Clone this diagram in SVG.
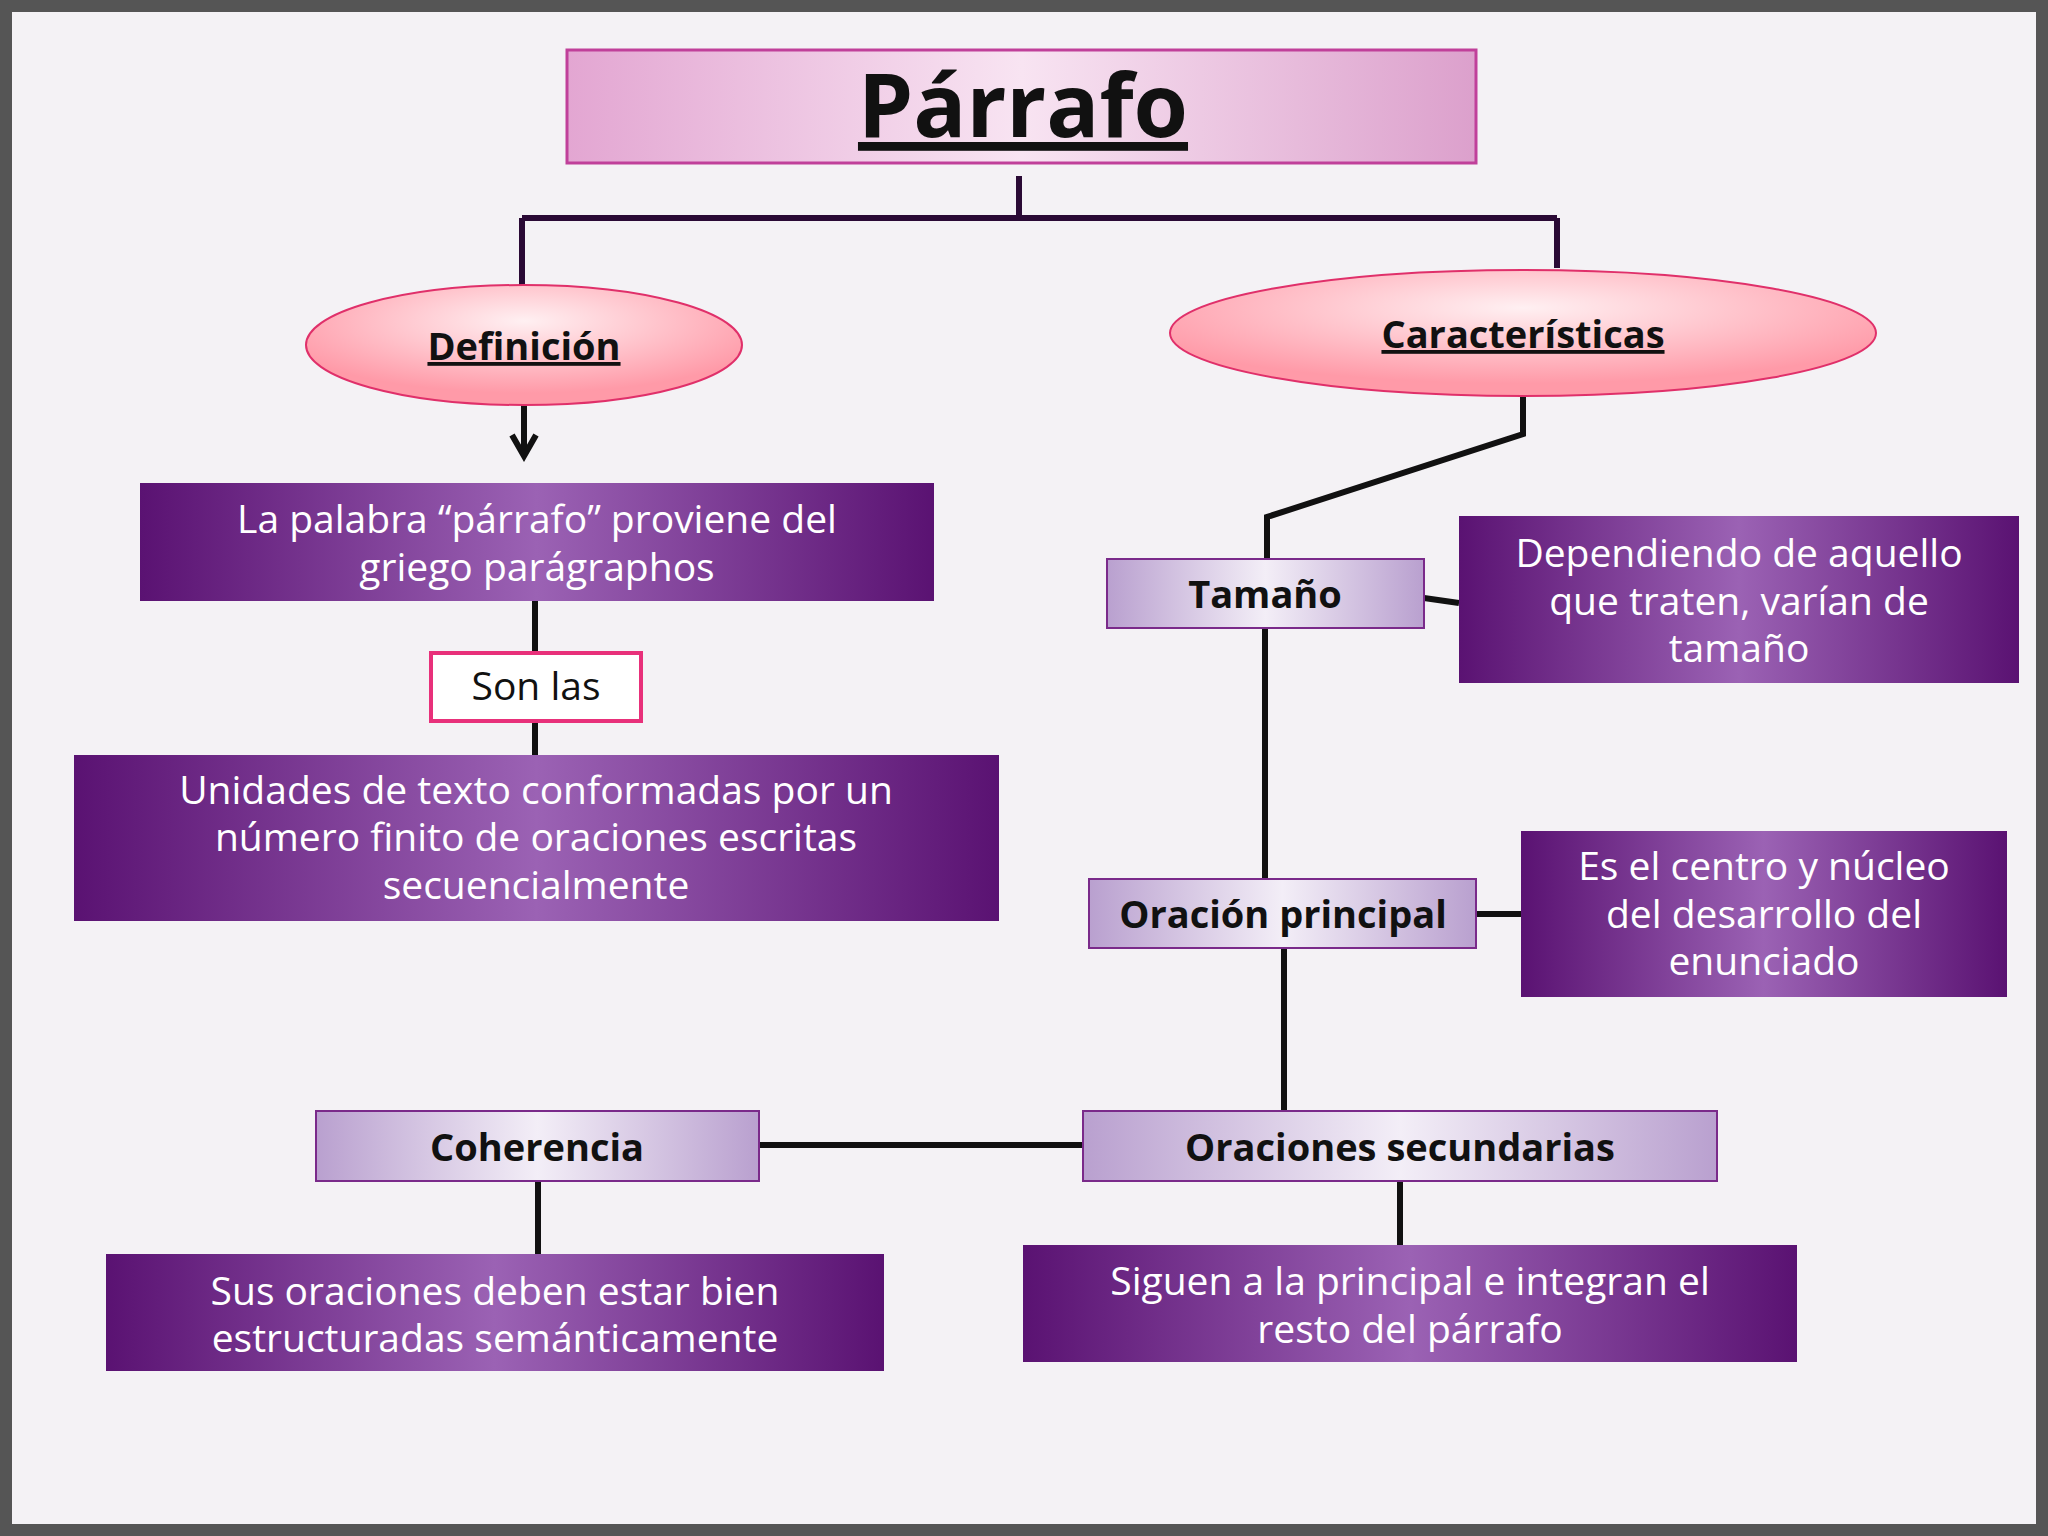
<svg xmlns="http://www.w3.org/2000/svg" width="2048" height="1536" viewBox="0 0 2048 1536">
<defs>
<linearGradient id="pur" x1="0" y1="0" x2="1" y2="0"><stop offset="0" stop-color="#5a1272"/><stop offset="0.5" stop-color="#9b62b4"/><stop offset="1" stop-color="#5a1272"/></linearGradient>
<linearGradient id="lav" x1="0" y1="0" x2="1" y2="0"><stop offset="0" stop-color="#b9a0cf"/><stop offset="0.5" stop-color="#f3eef7"/><stop offset="1" stop-color="#b9a0cf"/></linearGradient>
<linearGradient id="tit" x1="0" y1="0" x2="1" y2="0"><stop offset="0" stop-color="#e3a6d2"/><stop offset="0.5" stop-color="#f8e4f2"/><stop offset="1" stop-color="#dca0cc"/></linearGradient>
<radialGradient id="ell" cx="0.5" cy="0.3" r="0.6"><stop offset="0" stop-color="#fff0f2"/><stop offset="1" stop-color="#ff9aa8"/></radialGradient>
<radialGradient id="bg" cx="0.5" cy="0.5" r="0.75"><stop offset="0.85" stop-color="#f4f2f5"/><stop offset="1" stop-color="#6a6a6a"/></radialGradient>
<marker id="ar" viewBox="0 0 10 10" refX="8" refY="5" markerWidth="5" markerHeight="5" orient="auto"><path d="M1,1 L8,5 L1,9" fill="none" stroke="#111" stroke-width="2"/></marker>
<style>
.pb{fill:url(#pur)}
.lb{fill:url(#lav);stroke:#7a2a8a;stroke-width:2}
.wt{font-family:"Open Sans","Liberation Sans",sans-serif;font-size:39px;fill:#fff;text-anchor:middle}
.bt{font-family:"Open Sans","DejaVu Sans",sans-serif;font-weight:bold;font-size:38px;fill:#111;text-anchor:middle}
.ln{stroke:#111;stroke-width:6;fill:none}
.ln2{stroke:#2a0a35;stroke-width:6;fill:none}
</style>
</defs>
<rect width="2048" height="1536" fill="#f4f2f5"/>
<rect x="0" y="0" width="2048" height="1536" fill="none" stroke="#555" stroke-width="24"/>
<g id="connectors">
<path class="ln2" d="M1019,176 V218 M522,218 H1557 M522,218 V285 M1557,218 V268"/>
<path class="ln" d="M524,405 V456" marker-end="url(#ar)"/>
<path class="ln" d="M535,601 V757"/>
<path class="ln" d="M1523,396 V434 L1267,517 V559"/>
<path class="ln" d="M1424,598 L1459,603"/>
<path class="ln" d="M1265,628 V879"/>
<path class="ln" d="M1476,914 H1521"/>
<path class="ln" d="M1284,948 V1111"/>
<path class="ln" d="M759,1145 H1083"/>
<path class="ln" d="M538,1181 V1254"/>
<path class="ln" d="M1400,1181 V1245"/>
</g>
<g id="titulo"><rect x="567" y="50" width="909" height="113" fill="url(#tit)" stroke="#c0409a" stroke-width="3"/>
<text x="1023" y="137" font-family="'Open Sans','DejaVu Sans',sans-serif" font-weight="bold" font-size="88" text-anchor="middle" text-decoration="underline" fill="#111">Párrafo</text></g>
<g id="definicion"><ellipse cx="524" cy="345" rx="218" ry="60" fill="url(#ell)" stroke="#e0306a" stroke-width="2"/>
<text x="524" y="360" class="bt" font-size="44" text-decoration="underline">Definición</text></g>
<g id="caracteristicas"><ellipse cx="1523" cy="333" rx="353" ry="63" fill="url(#ell)" stroke="#e0306a" stroke-width="2"/>
<text x="1523" y="348" class="bt" font-size="44" text-decoration="underline">Características</text></g>
<g id="palabra"><rect class="pb" x="140" y="483" width="794" height="118"/>
<text class="wt"><tspan x="537" y="533">La palabra “párrafo” proviene del</tspan><tspan x="537" y="581">griego parágraphos</tspan></text></g>
<g id="sonlas"><rect x="431" y="653" width="210" height="68" fill="#fff" stroke="#e8307a" stroke-width="4"/>
<text x="536" y="700" class="wt" fill="#111" style="fill:#111">Son las</text></g>
<g id="unidades"><rect class="pb" x="74" y="755" width="925" height="166"/>
<text class="wt"><tspan x="536" y="804">Unidades de texto conformadas por un</tspan><tspan x="536" y="851">número finito de oraciones escritas</tspan><tspan x="536" y="899">secuencialmente</tspan></text></g>
<g id="tamano"><rect class="lb" x="1107" y="559" width="317" height="69"/><text x="1265" y="608" class="bt">Tamaño</text></g>
<g id="dependiendo"><rect class="pb" x="1459" y="516" width="560" height="167"/>
<text class="wt"><tspan x="1739" y="567">Dependiendo de aquello</tspan><tspan x="1739" y="615">que traten, varían de</tspan><tspan x="1739" y="662">tamaño</tspan></text></g>
<g id="oracion"><rect class="lb" x="1089" y="879" width="387" height="69"/><text x="1283" y="928" class="bt">Oración principal</text></g>
<g id="centro"><rect class="pb" x="1521" y="831" width="486" height="166"/>
<text class="wt"><tspan x="1764" y="880">Es el centro y núcleo</tspan><tspan x="1764" y="928">del desarrollo del</tspan><tspan x="1764" y="975">enunciado</tspan></text></g>
<g id="secundarias"><rect class="lb" x="1083" y="1111" width="634" height="70"/><text x="1400" y="1161" class="bt">Oraciones secundarias</text></g>
<g id="coherencia"><rect class="lb" x="316" y="1111" width="443" height="70"/><text x="537" y="1161" class="bt">Coherencia</text></g>
<g id="sus"><rect class="pb" x="106" y="1254" width="778" height="117"/>
<text class="wt"><tspan x="495" y="1305">Sus oraciones deben estar bien</tspan><tspan x="495" y="1352">estructuradas semánticamente</tspan></text></g>
<g id="siguen"><rect class="pb" x="1023" y="1245" width="774" height="117"/>
<text class="wt"><tspan x="1410" y="1295">Siguen a la principal e integran el</tspan><tspan x="1410" y="1343">resto del párrafo</tspan></text></g>
</svg>
